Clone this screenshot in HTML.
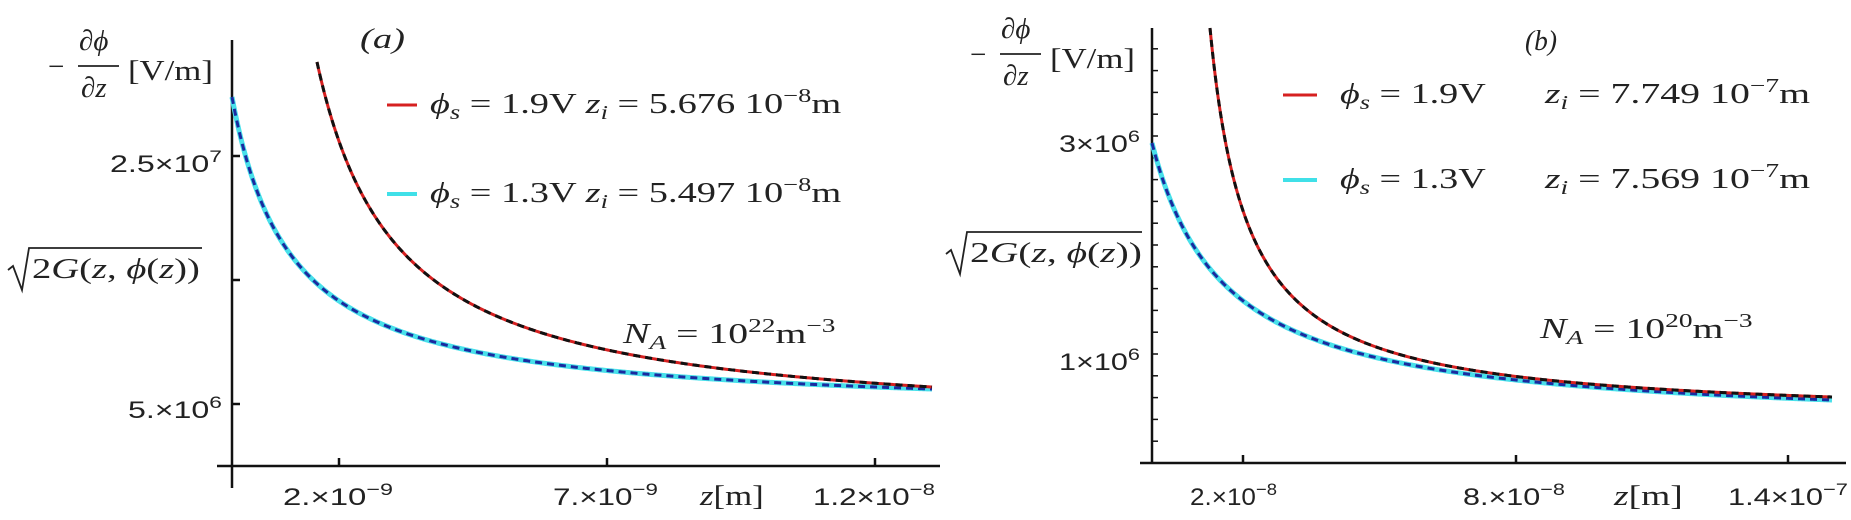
<!DOCTYPE html>
<html><head><meta charset="utf-8"><style>
html,body{margin:0;padding:0;background:#fff;}
svg{display:block;}
.m{font-family:"Liberation Serif",serif;font-size:29px;fill:#222;}
.i{font-style:italic;}
.t{font-family:"Liberation Sans",sans-serif;font-size:24px;fill:#222;}
</style></head><body>
<svg id="s" width="1851" height="520" viewBox="0 0 1851 520" xmlns="http://www.w3.org/2000/svg">
<g stroke="#111" stroke-width="2.5" fill="none">
<line x1="232" y1="40" x2="232" y2="488"/>
<line x1="217" y1="466" x2="940" y2="466"/>
<line x1="232" y1="156" x2="240" y2="156"/>
<line x1="232" y1="280" x2="240" y2="280"/>
<line x1="232" y1="404" x2="240" y2="404"/>
<line x1="339" y1="466" x2="339" y2="458"/>
<line x1="607" y1="466" x2="607" y2="458"/>
<line x1="875" y1="466" x2="875" y2="458"/>
<line x1="1152" y1="28" x2="1152" y2="463"/>
<line x1="1140" y1="463" x2="1846" y2="463"/>
<line x1="1243" y1="463" x2="1243" y2="455"/>
<line x1="1516" y1="463" x2="1516" y2="455"/>
<line x1="1788" y1="463" x2="1788" y2="455"/>
</g>
<g id="minor" stroke="#111" stroke-width="1.5"></g>
<g id="curves" fill="none"></g>
<line x1="387" y1="105" x2="417" y2="105" stroke="#d62020" stroke-width="3"/>
<line x1="387" y1="194" x2="417" y2="194" stroke="#40e0e8" stroke-width="4"/>
<line x1="1283" y1="95" x2="1317" y2="95" stroke="#d62020" stroke-width="3"/>
<line x1="1283" y1="180" x2="1317" y2="180" stroke="#40e0e8" stroke-width="4"/>
<g fill="none" stroke="#222" stroke-width="1.8">
<path d="M8,270 L13,266 L22,290 L29,248 L202,248"/>
<path d="M946,254 L951,250 L960,274 L967,232 L1142,232"/>
<line x1="78" y1="66" x2="119" y2="66"/>
<line x1="1000" y1="54" x2="1041" y2="54"/>
</g>
<!-- panel a -->
<text id="a1" class="m i" x="360" y="48">(a)</text>
<text class="m" x="48" y="76">−</text>
<text class="m i" x="79" y="50">∂ϕ</text>
<text class="m i" x="81" y="97">∂z</text>
<text id="a2" class="m" x="128" y="80">[V/m]</text>
<text id="a3" class="m" x="32" y="278">2<tspan class="i">G</tspan>(<tspan class="i">z</tspan>, <tspan class="i">ϕ</tspan>(<tspan class="i">z</tspan>))</text>
<text id="a4" class="t" x="110" y="172">2.5×10<tspan dy="-10" font-size="17">7</tspan></text>
<text id="a5" class="t" x="128" y="418">5.×10<tspan dy="-10" font-size="17">6</tspan></text>
<text id="a6" class="t" x="283" y="505">2.×10<tspan dy="-10" font-size="17">−9</tspan></text>
<text id="a7" class="t" x="553" y="505">7.×10<tspan dy="-10" font-size="17">−9</tspan></text>
<text id="a8" class="t" x="813" y="505">1.2×10<tspan dy="-10" font-size="17">−8</tspan></text>
<text id="a9" class="m" x="700" y="505"><tspan class="i">z</tspan>[m]</text>
<text id="a10" class="m" x="430" y="113"><tspan class="i">ϕ<tspan font-size="20" dy="6">s</tspan></tspan><tspan dy="-6"> = 1.9V   </tspan><tspan class="i">z<tspan font-size="20" dy="6">i</tspan></tspan><tspan dy="-6"> = 5.676 10</tspan><tspan font-size="20" dy="-11">−8</tspan><tspan dy="11">m</tspan></text>
<text id="a11" class="m" x="430" y="202"><tspan class="i">ϕ<tspan font-size="20" dy="6">s</tspan></tspan><tspan dy="-6"> = 1.3V   </tspan><tspan class="i">z<tspan font-size="20" dy="6">i</tspan></tspan><tspan dy="-6"> = 5.497 10</tspan><tspan font-size="20" dy="-11">−8</tspan><tspan dy="11">m</tspan></text>
<text id="a12" class="m" x="623" y="343"><tspan class="i">N<tspan font-size="20" dy="6">A</tspan></tspan><tspan dy="-6"> = 10</tspan><tspan font-size="20" dy="-11">22</tspan><tspan dy="11">m</tspan><tspan font-size="20" dy="-11">−3</tspan></text>
<!-- panel b -->
<text id="b1" class="m i" x="1525" y="50">(b)</text>
<text class="m" x="970" y="64">−</text>
<text class="m i" x="1001" y="38">∂ϕ</text>
<text class="m i" x="1003" y="85">∂z</text>
<text id="b2" class="m" x="1050" y="68">[V/m]</text>
<text id="b3" class="m" x="970" y="262">2<tspan class="i">G</tspan>(<tspan class="i">z</tspan>, <tspan class="i">ϕ</tspan>(<tspan class="i">z</tspan>))</text>
<text id="b4" class="t" x="1059" y="152">3×10<tspan dy="-10" font-size="17">6</tspan></text>
<text id="b5" class="t" x="1059" y="370">1×10<tspan dy="-10" font-size="17">6</tspan></text>
<text id="b6" class="t" x="1190" y="505">2.×10<tspan dy="-10" font-size="17">−8</tspan></text>
<text id="b7" class="t" x="1463" y="505">8.×10<tspan dy="-10" font-size="17">−8</tspan></text>
<text id="b8" class="t" x="1728" y="505">1.4×10<tspan dy="-10" font-size="17">−7</tspan></text>
<text id="b9" class="m" x="1614" y="505"><tspan class="i">z</tspan>[m]</text>
<text id="b10" class="m" x="1340" y="103"><tspan class="i">ϕ<tspan font-size="20" dy="6">s</tspan></tspan><tspan dy="-6"> = 1.9V</tspan></text>
<text id="b11" class="m" x="1545" y="103"><tspan class="i">z<tspan font-size="20" dy="6">i</tspan></tspan><tspan dy="-6"> = 7.749 10</tspan><tspan font-size="20" dy="-11">−7</tspan><tspan dy="11">m</tspan></text>
<text id="b12" class="m" x="1340" y="188"><tspan class="i">ϕ<tspan font-size="20" dy="6">s</tspan></tspan><tspan dy="-6"> = 1.3V</tspan></text>
<text id="b13" class="m" x="1545" y="188"><tspan class="i">z<tspan font-size="20" dy="6">i</tspan></tspan><tspan dy="-6"> = 7.569 10</tspan><tspan font-size="20" dy="-11">−7</tspan><tspan dy="11">m</tspan></text>
<text id="b14" class="m" x="1540" y="338"><tspan class="i">N<tspan font-size="20" dy="6">A</tspan></tspan><tspan dy="-6"> = 10</tspan><tspan font-size="20" dy="-11">20</tspan><tspan dy="11">m</tspan><tspan font-size="20" dy="-11">−3</tspan></text>
</svg>
<script>
var NS="http://www.w3.org/2000/svg";
var W={a1:[360,45],a2:[128,85],a3:[32,168],a4:[110,112],a5:[128,94],a6:[283,110],a7:[553,105],a8:[813,122],a9:[700,65],a10:[430,412],a11:[430,412],a12:[623,214],
b1:[1525,32],b2:[1050,85],b3:[970,172],b4:[1059,81],b5:[1059,81],b6:[1190,87],b7:[1463,102],b8:[1728,120],b9:[1614,70],b10:[1340,146],b11:[1545,267],b12:[1340,146],b13:[1545,267],b14:[1540,214]};
for(var id in W){var e=document.getElementById(id);var bb=e.getBBox();var s=W[id][1]/bb.width;var x0=W[id][0];
 e.setAttribute("x",x0);e.setAttribute("transform","translate("+x0+",0) scale("+s.toFixed(3)+",1) translate("+(-x0)+",0)");}
function fit(p){
  function r(C){var a=1/(p[0][0]-C),b=1/(p[1][0]-C),c=1/(p[2][0]-C);
    return (p[0][1]-p[1][1])/(a-b)-(p[1][1]-p[2][1])/(b-c);}
  var lo=p[0][0]-2000,hi=p[0][0]-0.5;
  for(var k=0;k<200;k++){var m=(lo+hi)/2; if(r(lo)*r(m)<=0)hi=m; else lo=m;}
  var C=(lo+hi)/2,a=1/(p[0][0]-C),b=1/(p[1][0]-C);
  var B=(p[0][1]-p[1][1])/(a-b),A=p[0][1]-B*a;
  return function(x){return A+B/(x-C);};
}
function path(f,x0,x1){var d="";for(var x=x0;x<=x1;x+=1){d+=(x==x0?"M":"L")+x+","+f(x).toFixed(2)+" ";}return d;}
var g=document.getElementById("curves");
function add(d,col,w,dash){var e=document.createElementNS(NS,"path");e.setAttribute("d",d);e.setAttribute("stroke",col);e.setAttribute("stroke-width",w);if(dash)e.setAttribute("stroke-dasharray",dash);g.appendChild(e);}
var sets=[
 [[[232,97],[306,273],[932,389]],232,932,"cyan"],
 [[[317,62],[418,267],[932,387]],317,932,"red"],
 [[[1152,143],[1242,300],[1832,400]],1152,1832,"cyan"],
 [[[1210,28],[1289,293],[1832,397]],1210,1832,"red"]
];
sets.forEach(function(s){
  var f=fit(s[0]);var d=path(f,s[1],s[2]);
  if(s[3]=="cyan"){add(d,"#48e0ea",5);add(d,"#1a2aa0",3,"7,5");}
  else{add(d,"#d62020",3);add(d,"#111",3,"7,5");}
});
var mg=document.getElementById("minor");
for(var y=463-21.8;y>30;y-=21.8){var l=document.createElementNS(NS,"line");l.setAttribute("x1",1152);l.setAttribute("x2",1158);l.setAttribute("y1",y);l.setAttribute("y2",y);mg.appendChild(l);}
</script>
</body></html>
